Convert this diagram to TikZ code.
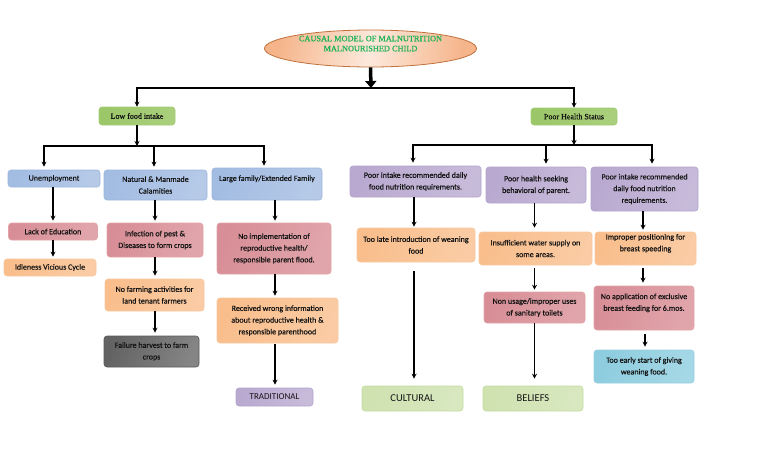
\documentclass[tikz,border=0pt]{standalone}
\usepackage{fontspec}
\setmainfont{Carlito}
\newfontfamily\boxfont{Carlito}[FakeBold=0.45]
\newfontfamily\serifx{Liberation Serif}[FakeBold=0.8]
\usetikzlibrary{arrows.meta,shapes.geometric}
\definecolor{blueD}{HTML}{A3BCE2}
\definecolor{blueL}{HTML}{E2EAF6}
\definecolor{blueB}{HTML}{9DB6DC}
\definecolor{redD}{HTML}{D88E96}
\definecolor{redL}{HTML}{F4DCDD}
\definecolor{redB}{HTML}{E3A3A7}
\definecolor{orD}{HTML}{F9BE8C}
\definecolor{orL}{HTML}{FEEBDC}
\definecolor{orB}{HTML}{F8C9A0}
\definecolor{puD}{HTML}{B9A9D0}
\definecolor{puL}{HTML}{E9E4F1}
\definecolor{puB}{HTML}{B3A4CA}
\definecolor{grD}{HTML}{9CC769}
\definecolor{grL}{HTML}{C8E2A8}
\definecolor{grB}{HTML}{A2CB74}
\definecolor{lgD}{HTML}{CFE2B0}
\definecolor{lgL}{HTML}{EEF5E3}
\definecolor{lgB}{HTML}{C4DBA1}
\definecolor{cyD}{HTML}{8DCDDF}
\definecolor{cyL}{HTML}{DDF1F6}
\definecolor{cyB}{HTML}{96D0E0}
\definecolor{gyD}{HTML}{636363}
\definecolor{gyL}{HTML}{D4D4D4}
\definecolor{gyB}{HTML}{5A5A5A}
\definecolor{elD}{HTML}{F5B48A}
\definecolor{elL}{HTML}{FDE9DC}
\definecolor{elB}{HTML}{C0713C}
\definecolor{titlegreen}{HTML}{1DB356}
\tikzset{
  box/.style={rounded corners=3pt, line width=0.6pt, align=center, inner sep=1pt,
    font=\boxfont\fontsize{8}{11.7}\selectfont, text=black!92},
  tint/.style n args={3}{draw=#1, left color=#2, middle color=#3, right color=#2!70!#3, shading angle=70},
  bluebox/.style={box, tint={blueB}{blueD}{blueL}},
  redbox/.style={box, tint={redB}{redD}{redL}},
  orbox/.style={box, tint={orB}{orD}{orL}},
  pubox/.style={box, tint={puB}{puD}{puL}},
  grbox/.style={box, tint={grB}{grD}{grL}, font=\serifx\fontsize{8}{10}\selectfont},
  lgbox/.style={box, tint={lgB}{lgD}{lgL}, font=\fontsize{10.5}{12}\selectfont},
  cybox/.style={box, tint={cyB}{cyD}{cyL}},
  gybox/.style={box, tint={gyB}{gyD}{gyL}},
  arr/.style={line width=1.4pt, -{Stealth[length=5pt,width=5pt]}},
  bigarr/.style={line width=3.5pt, -{Triangle[length=7pt,width=11pt]}},
  sz/.style 2 args={minimum width=#1pt, minimum height=#2pt},
}
\begin{document}
\begin{tikzpicture}[x=1pt,y=-1pt]
\useasboundingbox (0,0) rectangle (768,466);

% title
\node[ellipse, draw=elB, line width=0.8pt, inner sep=0pt, minimum width=212pt, minimum height=37pt,
  left color=elD, right color=elD, middle color=elL, shading angle=80,
  align=center, text=titlegreen, font=\serifx\fontsize{8.3}{10}\selectfont] (title) at (370.5,48.5)
  {CAUSAL MODEL OF MALNUTRITION\\MALNOURISHED CHILD\\\mbox{}};

% level 1
\node[grbox, sz={76}{18}] (lfi) at (137,116) {Low food intake};
\node[grbox, sz={86}{17}] (phs) at (574,116.5) {Poor Health Status};

\coordinate (j0) at (371,88);
\draw[bigarr] (title.south) -- (j0);
\draw[arr] (j0) -| (lfi.north);
\draw[arr] (j0) -| (phs.north);

% left level 2
\coordinate (j1) at (137,146);
\coordinate (j2) at (574,145);
\node[bluebox, sz={92}{17}] (unemp) at (54,178.5) {Unemployment};
\node[bluebox, sz={103}{30}] (nat) at (155.5,185) {Natural \& Manmade\\Calamities};
\node[bluebox, sz={110}{32}] (large) at (267,184) {Large family/Extended Family\\\mbox{}};

\draw[arr] (lfi.south) -- (j1);
\draw[line width=1.4pt] ([xshift=-10pt]unemp.north |- j1) -- ([xshift=-3pt]large.north |- j1);
\draw[arr, shorten >=3pt] (j1) -| ([xshift=-10pt]unemp.north);
\draw[arr, shorten >=3pt] (j1) -| ([xshift=-1.5pt]nat.north);
\draw[arr, shorten >=2pt] (j1) -| ([xshift=-3pt]large.north);

% unemployment column
\node[redbox, sz={89}{17}] (loe) at (53,231.5) {Lack of Education};
\node[orbox, sz={92}{17}] (idl) at (50,267.5) {Idleness Vicious Cycle};
\draw[arr, shorten >=2pt] (unemp.south -| loe.north) -- (loe.north);
\draw[arr, shorten >=2pt] (loe.south) -- (loe.south |- idl.north);

% natural column
\node[redbox, sz={96}{34}] (inf) at (155,240) {Infection of pest \&\\Diseases to form crops};
\node[orbox, sz={99}{32}] (nof) at (154.5,295) {No farming activities for\\land tenant farmers};
\node[gybox, sz={95}{31}] (fail) at (151.5,351.5) {Failure harvest to farm\\crops};
\draw[arr, shorten >=2pt] (nat.south -| inf.north) -- (inf.north);
\draw[arr, shorten >=3pt] (inf.south) -- (inf.south |- nof.north);
\draw[arr, shorten >=3pt] (nof.south -| inf.south) -- (inf.south |- fail.north);

% large family column
\node[redbox, sz={114}{51}] (noi) at (274,248.5) {No implementation of\\reproductive health/\\responsible parent flood.};
\node[orbox, sz={121}{45}] (rec) at (277.5,320.5) {Received wrong information\\about reproductive health \&\\responsible parenthood};
\node[pubox, sz={77}{18}, font=\fontsize{9}{11}\selectfont] (trad) at (274.5,397) {TRADITIONAL};
\draw[arr, shorten >=2pt] ([xshift=1pt]noi.north |- large.south) -- ([xshift=1pt]noi.north);
\draw[arr, shorten >=2pt] ([xshift=1pt]noi.south) -- ([xshift=1pt]noi.south |- rec.north);
\draw[arr, shorten >=3pt, shorten <=1pt] ([xshift=1pt]noi.south |- rec.south) -- ([xshift=1pt]noi.south |- trad.north);

% right level 2
\node[pubox, sz={131}{31}] (p1) at (415.5,181.5) {Poor intake recommended daily\\food nutrition requirements.};
\node[pubox, sz={100}{36}] (p2) at (536,185) {Poor health seeking\\behavioral of parent.};
\node[pubox, sz={107}{44}] (p3) at (644.5,189) {Poor intake recommended\\daily food nutrition\\requirements.};
\draw[arr] (phs.south) -- (j2);
\draw[line width=1.4pt] ([xshift=-2.5pt]p1.north |- j2) -- ([xshift=7.5pt]p3.north |- j2);
\draw[arr, shorten >=3pt] (j2) -| ([xshift=-2.5pt]p1.north);
\draw[arr, shorten >=3pt] (j2) -| ([xshift=10pt]p2.north);
\draw[arr, shorten >=3pt] (j2) -| ([xshift=7.5pt]p3.north);

% p1 column
\node[orbox, sz={118}{34}] (tl) at (416,245) {Too late introduction of weaning\\food};
\node[lgbox, sz={101}{25}] (cul) at (412.5,398.5) {CULTURAL};
\draw[arr, shorten >=1pt] ([xshift=-2pt]tl.north |- p1.south) -- ([xshift=-2pt]tl.north);
\draw[arr, shorten <=9pt, shorten >=7pt] ([xshift=-2pt]tl.south) -- ([xshift=-2pt]tl.south |- cul.north);

% p2 column
\node[orbox, sz={113}{33}] (ins) at (535.5,248.5) {Insufficient water supply on\\some areas.};
\node[redbox, sz={101}{31}] (nu) at (534.5,307.5) {Non usage/improper uses\\of sanitary toilets};
\node[lgbox, sz={100}{25}] (bel) at (533,398.5) {BELIEFS};
\draw[arr, shorten >=4pt] (p2.south -| nu.north) -- (nu.north |- ins.north);
\draw[arr, shorten <=3pt, shorten >=2pt] (ins.south -| nu.north) -- (nu.north);
\draw[arr, shorten >=7pt] (nu.south) -- (nu.south |- bel.north);

% p3 column
\node[orbox, sz={101}{33}] (imp) at (645.5,248.5) {Improper positioning for\\breast speeding\\\mbox{}};
\node[redbox, sz={100}{44}] (noa) at (644,308) {No application of exclusive\\breast feeding for 6.mos.\\\mbox{}};
\node[cybox, sz={100}{33}] (te) at (644,366.5) {Too early start of giving\\weaning food.};
\draw[arr, shorten >=2pt] ([xshift=-1.5pt]p3.south) -- ([xshift=-1.5pt]p3.south |- imp.north);
\draw[arr, shorten <=3pt, shorten >=3pt] ([xshift=-1.5pt]p3.south |- imp.south) -- ([xshift=-1.5pt]p3.south |- noa.north);
\draw[arr, shorten <=4pt, shorten >=3pt] ([xshift=1pt]noa.south) -- ([xshift=1pt]noa.south |- te.north);
\end{tikzpicture}
\end{document}
